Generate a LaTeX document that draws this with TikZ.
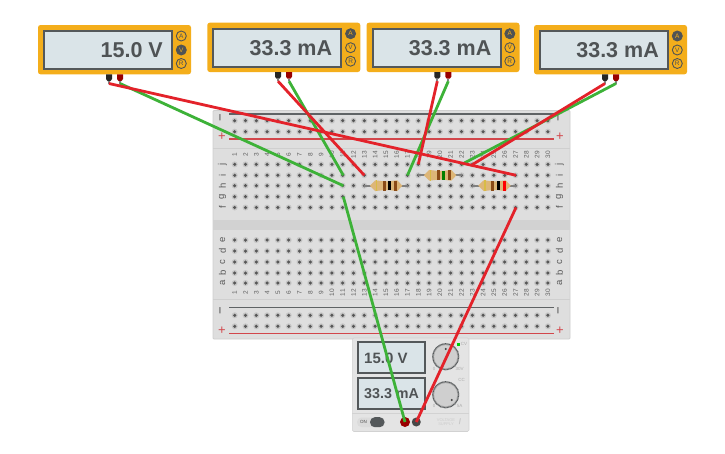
\documentclass[tikz,border=0pt]{standalone}
\usepackage{fontspec}
\setmainfont{Liberation Sans}
\definecolor{meter}{HTML}{F4AE1B}
\definecolor{lcd}{HTML}{DAE4E8}
\definecolor{lcdedge}{HTML}{54585A}
\definecolor{readout}{HTML}{4F5355}
\definecolor{board}{HTML}{DEDEDE}
\definecolor{boardedge}{HTML}{CFCFCF}
\definecolor{channel}{HTML}{D2D2D2}
\definecolor{railred}{HTML}{D2464B}
\definecolor{railgrey}{HTML}{5F6365}
\definecolor{wirered}{HTML}{E3222A}
\definecolor{wiregreen}{HTML}{3DB238}
\definecolor{rbody}{HTML}{DDB677}
\definecolor{rbrown}{HTML}{8A4B17}
\definecolor{rgold}{HTML}{D8BC45}
\definecolor{psu}{HTML}{E4E4E4}
\definecolor{psuedge}{HTML}{D2D2D2}
\definecolor{ringc}{HTML}{C6C6C6}
\tikzset{
  x=1pt,y=-1pt,
  meterbody/.style={fill=meter,rounded corners=2.5pt,draw=none},
  lcdscreen/.style={fill=lcd,draw=lcdedge,line width=2pt},
  readoutbig/.style={text=readout,font=\bfseries\fontsize{21.5}{22}\selectfont,anchor=east,inner sep=0pt},
  readoutpsu/.style={text=readout,font=\bfseries\fontsize{15}{16}\selectfont,anchor=west,inner sep=0pt},
  modeoff/.style={circle,draw=readout,line width=.9pt,fill=meter,minimum size=10pt,inner sep=0pt,text=readout,font=\fontsize{6.5}{6.5}\selectfont},
  modeon/.style={circle,draw=readout,line width=.9pt,fill=readout,minimum size=10pt,inner sep=0pt,text=meter,font=\fontsize{6.5}{6.5}\selectfont},
  redwire/.style={draw=wirered,line width=2.8pt},
  greenwire/.style={draw=wiregreen,line width=2.8pt},
  lbl/.style={text=gray!75!black,font=\fontsize{6.5}{7}\selectfont,inner sep=0pt},
  letterlbl/.style={text=gray!70!black,font=\fontsize{9.5}{10}\selectfont,inner sep=0pt,rotate=90},
  railmark/.style={font=\fontsize{13}{13}\selectfont,inner sep=0pt},
  tiny/.style={text=gray!65,font=\fontsize{4.5}{5}\selectfont,inner sep=0pt},
}
\newcommand{\meter}[8]{% name, x, y, text, modeA, modeV, px1, px2
  \fill[meterbody] (#2,#3) rectangle ++(153,49.3);
  \draw[lcdscreen] (#2+6,#3+6) rectangle ++(128,38);
  \node[readoutbig] (#1t) at (#2+125,#3+25) {#4};
  \node[#5] (#1a) at (#2+143.3,#3+11) {A};
  \node[#6] (#1v) at (#2+143.3,#3+25) {V};
  \node[modeoff] (#1r) at (#2+143.3,#3+38.5) {R};
  \fill[black!85] (#7-3,#3+49.3) rectangle (#7+3,#3+54) -- (#7+1.5,#3+56) -- (#7-1.5,#3+56) -- (#7-3,#3+54);
  \fill[red!60!black] (#8-3,#3+49.3) rectangle (#8+3,#3+54) -- (#8+1.5,#3+56) -- (#8-1.5,#3+56) -- (#8-3,#3+54);
  \fill[gray] (#7-1,#3+56) rectangle (#7+1,#3+58.5);
  \fill[gray] (#8-1,#3+56) rectangle (#8+1,#3+58.5);
  \coordinate (#1b) at (#7,#3+58.5);
  \coordinate (#1p) at (#8,#3+58.5);
}
\newcommand{\resistor}[7]{% name, x1, x2, y, b2, b3, b4
  \draw[gray,line width=2pt,line cap=round] (#2,#4) -- (#3,#4);
  \fill[rbody] (#2+5.5,#4) -- (#2+11,#4-5.4) -- (#2+19,#4-4.4) -- (#2+25,#4-4.4) -- (#2+33,#4-5.4) -- (#2+38,#4) -- (#2+33,#4+5.4) -- (#2+25,#4+4.4) -- (#2+19,#4+4.4) -- (#2+11,#4+5.4) -- cycle;
  \fill[rgold] (#2+11.5,#4-5.4) rectangle ++(1.5,10.8);
  \fill[#5] (#2+18.7,#4-5) rectangle ++(3,10);
  \fill[#6] (#2+24,#4-4.4) rectangle ++(3,8.8);
  \fill[#7] (#2+29.8,#4-5) rectangle ++(3,10);
  \coordinate (#1) at (#2,#4);
}
\begin{document}
\begin{tikzpicture}
\useasboundingbox (0,0) rectangle (725,453);
\fill[white] (0,0) rectangle (725,453);
% breadboard
\fill[board,draw=boardedge,line width=.8pt,rounded corners=1pt] (213,110.5) rectangle (570,339);
\fill[channel] (213.4,220) rectangle (569.6,230);
\draw[boardedge,line width=.6pt] (213,148) -- (570,148) (213,299) -- (570,299);
\draw[railgrey,line width=1.3pt] (229,114) -- (554,114) (229,307.7) -- (554,307.7);
\draw[railred,line width=1.3pt] (229,139) -- (554,139) (229,333.7) -- (554,333.7);
\foreach \yy in {120.7,131.7,164.4,175.3,185.7,196.7,207.5,240,251,262,273,283,315.3,326.3}{
  \foreach \cc in {0,...,29}{
    \fill[ringc] (234.7+10.8*\cc,\yy) circle (3);
    \fill[black!66] (234.7+10.8*\cc,\yy) circle (1.75);
  }
}
\foreach \cc in {1,...,30}{
  \node[lbl,rotate=90] at (223.9+10.8*\cc,154.5) {\cc};
  \node[lbl,rotate=90] at (223.9+10.8*\cc,292.7) {\cc};
}
\foreach \ltr/\yy in {j/164.4,i/175.3,h/185.7,g/196.7,f/207.5,e/240,d/251,c/262,b/273,a/283}{
  \node[letterlbl] at (222.5,\yy) {\ltr};
  \node[letterlbl] at (559.5,\yy) {\ltr};
}
\foreach \xx in {222,560}{
  \node[railmark,text=black!70,rotate=90] at (\xx,117.7) {−};
  \node[railmark,text=black!70,rotate=90] at (\xx,311) {−};
  \node[railmark,text=railred] at (\xx,137) {+};
  \node[railmark,text=railred] at (\xx,330.5) {+};
}
% resistors
\resistor{ra}{364.3}{407.5}{185.7}{rbrown}{black}{rbrown}
\resistor{rb}{418.3}{461.7}{175.3}{rbrown}{green!50!black}{rbrown}
\resistor{rc}{472.7}{516}{185.7}{rbrown}{black}{red}
% power supply
\fill[psu,draw=psuedge,line width=.6pt,rounded corners=1.5pt] (352.3,338) rectangle (469,431.5);
\draw[psuedge,line width=.8pt] (352.3,413) -- (469,413);
\draw[lcdscreen] (358,342) rectangle (425,373);
\draw[lcdscreen] (358,378) rectangle (425,409);
\node[readoutpsu] (psuv) at (364,358) {15.0 V};
\node[readoutpsu,font=\bfseries\fontsize{14.3}{16}\selectfont] (psui) at (364,393.5) {33.3 mA};
\foreach \yy in {356.7,394.7}{
  \fill[gray!60] (445.7,\yy) circle (13.5);
  \draw[lcdedge,line width=1.2pt,dash pattern=on .8pt off .6pt] (445.7,\yy) circle (13);
  \fill[gray!38] (445.7,\yy) circle (11.5);
}
\fill[black!75] (445.7,349) circle (1.1);
\fill[black!75] (451.7,400) circle (1.1);
\fill[green!80!black] (457.3,342.5) rectangle ++(3,3);
\node[tiny] (lcv) at (464,344) {CV};
\node[tiny] (lcc) at (461.5,379.5) {CC};
\node[tiny] (lva) at (434,369.3) {0};
\node[tiny] (lvb) at (459.5,369.3) {30V};
\node[tiny] (lia) at (434,405.5) {0};
\node[tiny] (lib) at (459.5,405.5) {5A};
\fill[gray!28,rounded corners=4.5pt] (357,417.5) rectangle (385,427);
\fill[lcdedge,rounded corners=4.8pt] (370,417.2) rectangle (384.5,427.2);
\node[tiny,text=black!70] (lon) at (363.5,422.2) {ON};
\node[tiny,text=gray!40,align=center,font=\fontsize{4}{4.2}\selectfont] (lsup) at (446,422) {VOLTAGE\\SUPPLY};
\node[tiny,text=gray!45,font=\fontsize{8}{8}\selectfont\bfseries] (lbolt) at (460,422) {/};
\node[circle,fill=red!60!black,minimum size=10pt,inner sep=0pt] (tp) at (405,422) {};
\node[circle,fill=black!72,minimum size=9pt,inner sep=0pt] (tn) at (416.3,422) {};
% meters
\meter{ma}{38}{25}{15.0 V}{modeoff}{modeon}{109}{120}
\meter{mb}{207.3}{22.7}{33.3 mA}{modeon}{modeoff}{278}{289}
\meter{mc}{366.5}{22.7}{33.3 mA}{modeon}{modeoff}{437.3}{448.3}
\meter{md}{534}{25}{33.3 mA}{modeon}{modeoff}{605}{616}
% wire ends
\coordinate (h11) at (343.3,185.7);
\coordinate (i11) at (343.3,175.3);
\coordinate (g11) at (343.3,196.7);
\coordinate (i13) at (364.3,175.3);
\coordinate (i17) at (407.5,175.3);
\coordinate (j18) at (418.3,164.4);
\coordinate (j22) at (461.7,164.4);
\coordinate (j23) at (472.7,164.4);
\coordinate (i27) at (516,175.3);
\coordinate (f27) at (516,207.5);
% wires
\draw[greenwire] (map) -- (h11);
\draw[greenwire] (mbp) -- (i11);
\draw[greenwire] (mcp) -- (i17);
\draw[greenwire] (mdp) -- (j22);
\draw[greenwire] (g11) -- (tp.center);
\draw[redwire] (mab) -- (i27);
\draw[redwire] (mbb) -- (i13);
\draw[redwire] (mcb) -- (j18);
\draw[redwire] (mdb) -- (j23);
\draw[redwire] (f27) -- (tn.center);
\end{tikzpicture}
\end{document}
